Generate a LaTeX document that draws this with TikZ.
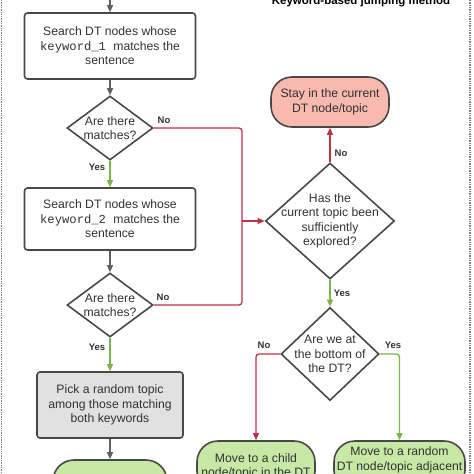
\documentclass[tikz,border=0pt]{standalone}
\usepackage{fontspec}
\setmainfont{Liberation Sans}
\setmonofont{Liberation Mono}
\usetikzlibrary{shapes.geometric,arrows.meta}
\definecolor{outl}{RGB}{72,72,72}
\definecolor{garrow}{RGB}{95,95,95}
\definecolor{txt}{RGB}{50,50,50}
\definecolor{redl}{RGB}{192,48,72}
\definecolor{greenl}{RGB}{122,182,72}
\definecolor{pinkf}{RGB}{248,185,175}
\definecolor{greenf}{RGB}{200,232,165}
\definecolor{grayf}{RGB}{225,225,225}
\begin{document}
\begin{tikzpicture}[x=1pt,y=-1pt,
  basefont/.style={font=\fontsize{12.2}{14.5}\selectfont, text=txt, align=center},
  box/.style={basefont, draw=outl, line width=1.6pt, rounded corners=3pt, inner sep=0pt},
  term/.style={box, rounded corners=21pt},
  dec/.style={basefont, diamond, draw=outl, line width=1.6pt, inner sep=-14pt},
  tipa/.style={-{Triangle[length=7pt,width=6pt]}},
  garr/.style={draw=garrow, line width=1.3pt, tipa},
  rline/.style={draw=redl, line width=1.3pt, rounded corners=3pt},
  rarr/.style={rline, tipa},
  yline/.style={draw=greenl, line width=1.3pt, rounded corners=3pt},
  yarr/.style={yline, tipa},
  lab/.style={font=\bfseries\fontsize{9.5}{11}\selectfont, text=txt, inner sep=0pt},
  border/.style={draw=gray, densely dotted, line width=1.3pt}
]
\useasboundingbox (0,0) rectangle (474,474);
\clip (0,0) rectangle (474,474);

\draw[border] (1.5,0) -- (1.5,474);
\draw[border] (470,0) -- (470,474);

\node[font=\bfseries\fontsize{11.5}{13}\selectfont, text=black, anchor=base] (title) at (361,4) {Keyword-based jumping method};

% left column
\coordinate (top) at (110,-2);
\node[box, minimum width=171pt, minimum height=66pt] (b1) at (110,46)
  {Search DT nodes whose\\\texttt{keyword\_1 }matches the\\sentence};
\node[dec, minimum width=86pt, minimum height=64pt] (d1) at (110,128) {Are there\\matches?};
\node[box, minimum width=171pt, minimum height=62pt] (b2) at (110,219)
  {Search DT nodes whose\\\texttt{keyword\_2 }matches the\\sentence};
\node[dec, minimum width=86pt, minimum height=64pt] (d2) at (110,305) {Are there\\matches?};
\node[box, fill=grayf, minimum width=146pt, minimum height=66pt] (b3) at (110,405)
  {Pick a random topic\\among those matching\\both keywords};
\node[term, fill=greenf, minimum width=114pt, minimum height=44pt] (g0) at (110,482) {};

% right column
\node[term, fill=pinkf, minimum width=118pt, minimum height=50pt] (stay) at (330,102)
  {Stay in the current\\DT node/topic};
\node[dec, minimum width=129pt, minimum height=116pt] (d3) at (330,221)
  {Has the\\current topic been\\sufficiently\\explored?};
\node[dec, minimum width=98pt, minimum height=93pt] (d4) at (330,354)
  {Are we at\\the bottom of\\the DT?};
\node[term, fill=greenf, minimum width=118pt, minimum height=51pt] (g1) at (256,466.5)
  {Move to a child\\node/topic in the DT};
\node[term, fill=greenf, minimum width=131pt, minimum height=50pt] (g2) at (399.5,466)
  {Move to a random\\DT node/topic adjacent\\\mbox{}};

\coordinate (j) at (242,221);

% connectors
\draw[garr] (top) -- (b1);
\draw[garr] (b1) -- (d1);
\draw[yarr] (d1) -- (b2);
\draw[garr] (b2) -- (d2);
\draw[yarr] (d2) -- (b3);
\draw[garr] (b3) -- (g0);
\draw[rline] (d1.east) -| (j);
\draw[rline] (d2.east) -| (j);
\draw[rarr] (j) -- (d3.west);
\draw[rarr] (d3.north) -- (stay.south);
\draw[yarr] (d3.south) -- (d4.north);
\draw[rarr] (d4.west) -| (g1.north);
\draw[yarr] (d4.east) -| (g2.north);

% labels
\node[lab] (no1) at (164,120) {No};
\node[lab] (yes1) at (97,167) {Yes};
\node[lab] (no2) at (163,297) {No};
\node[lab] (yes2) at (97,347) {Yes};
\node[lab] (no3) at (341,153) {No};
\node[lab] (yes3) at (342,293) {Yes};
\node[lab] (no4) at (264,345) {No};
\node[lab] (yes4) at (393,345) {Yes};
\end{tikzpicture}
\end{document}
